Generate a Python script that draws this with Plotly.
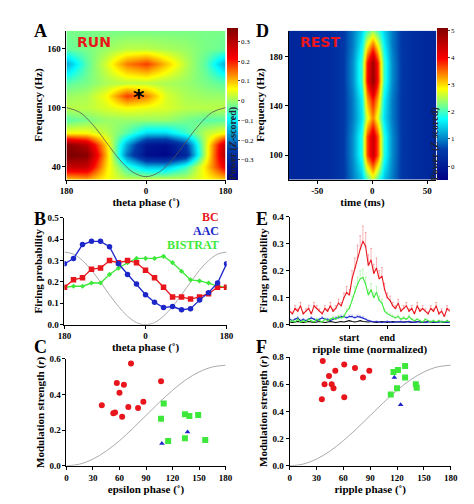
import plotly.graph_objects as go

W, H = 474, 504

# ---- panel A: RUN spectrogram (theta phase x frequency) ----
a_phase = [-180, -135, -90, -45, 0, 45, 90, 135, 180]
a_freq = [28, 40, 52, 62, 75, 88, 100, 112, 125, 145, 160, 178]
a_power = [
    [0.10, 0.12, 0.06, 0.02, 0.02, 0.02, 0.02, 0.06, 0.10],
    [0.28, 0.28, 0.08, -0.06, -0.14, -0.14, -0.06, 0.08, 0.24],
    [0.38, 0.36, 0.10, -0.20, -0.36, -0.38, -0.30, 0.03, 0.32],
    [0.36, 0.30, 0.08, -0.16, -0.34, -0.36, -0.26, 0.03, 0.30],
    [0.06, 0.06, 0.02, -0.04, -0.12, -0.12, -0.06, 0.02, 0.06],
    [-0.04, -0.02, 0.00, 0.00, 0.00, 0.00, -0.02, -0.04, -0.04],
    [0.02, 0.02, 0.04, 0.06, 0.05, 0.04, 0.02, 0.02, 0.02],
    [0.00, 0.01, 0.06, 0.18, 0.14, 0.04, 0.01, 0.00, 0.00],
    [-0.04, -0.02, 0.01, 0.02, 0.02, 0.01, 0.00, -0.02, -0.04],
    [-0.16, -0.04, 0.04, 0.14, 0.18, 0.10, 0.02, -0.04, -0.16],
    [-0.03, -0.02, 0.00, 0.02, 0.02, 0.01, 0.00, -0.02, -0.03],
    [-0.02, -0.02, -0.02, -0.02, -0.02, -0.02, -0.02, -0.02, -0.02],
]
a_wave_phase = [-180, -150, -120, -90, -60, -30, 0, 30, 60, 90, 120, 150, 180]
a_wave_freq = [100, 95.3, 82.5, 65, 47.5, 34.7, 30, 34.7, 47.5, 65, 82.5, 95.3, 100]

# ---- panel D: REST spectrogram (time x frequency) ----
d_time = [-76, -40, -28, -18, -10, -5, 0, 5, 10, 18, 28, 40, 58]
d_freq = [80, 100, 115, 130, 145, 160, 175, 190, 201]
d_power = [
    [0.2, 0.3, 0.5, 1.0, 1.4, 2.0, 2.6, 2.0, 1.4, 1.0, 0.5, 0.3, 0.2],
    [0.2, 0.3, 0.5, 1.1, 1.9, 3.6, 4.4, 3.6, 1.9, 1.1, 0.5, 0.3, 0.2],
    [0.2, 0.3, 0.5, 1.1, 1.9, 3.6, 4.4, 3.6, 1.9, 1.1, 0.5, 0.3, 0.2],
    [0.2, 0.3, 0.5, 1.0, 1.6, 2.7, 3.4, 2.7, 1.6, 1.0, 0.5, 0.3, 0.2],
    [0.2, 0.3, 0.5, 1.0, 1.7, 3.2, 3.9, 3.2, 1.7, 1.0, 0.5, 0.3, 0.2],
    [0.2, 0.3, 0.5, 1.1, 2.0, 3.9, 4.9, 3.9, 2.0, 1.1, 0.5, 0.3, 0.2],
    [0.2, 0.3, 0.5, 1.1, 2.0, 3.8, 4.8, 3.8, 2.0, 1.1, 0.5, 0.3, 0.2],
    [0.2, 0.3, 0.5, 1.0, 1.7, 2.8, 3.5, 2.8, 1.7, 1.0, 0.5, 0.3, 0.2],
    [0.2, 0.3, 0.5, 1.0, 1.5, 2.0, 2.4, 2.0, 1.5, 1.0, 0.5, 0.3, 0.2],
]

# ---- panel B: theta phase firing ----
b_phase = [-180, -160, -140, -120, -100, -80, -60, -40, -20, 0, 20, 40, 60, 80, 100, 120, 140, 160, 180]
b_bc = [.175, .21, .22, .26, .265, .30, .29, .30, .29, .255, .22, .175, .13, .13, .12, .13, .145, .175, .175]
b_aac = [.285, .31, .375, .39, .39, .365, .285, .235, .19, .14, .105, .08, .085, .07, .075, .115, .15, .195, .285]
b_bistrat = [.175, .18, .18, .195, .195, .235, .265, .29, .31, .31, .31, .32, .29, .25, .21, .205, .195, .18, .175]
b_theta = [.34, .330, .300, .255, .199, .140, .085, .040, .010, 0, .010, .040, .085, .140, .199, .255, .300, .330, .34]

# ---- panel E: ripple-time firing (normalized bins) ----
e_bc = [.05, .04, .06, .05, .07, .04, .05, .06, .04, .07, .06, .05, .04, .06, .05, .07, .05, .06, .08, .07,
        .10, .12, .11, .17, .21, .25, .28, .31, .29, .22, .24, .19, .21, .17, .18, .13, .10, .09, .07, .06,
        .08, .05, .06, .07, .05, .06, .04, .07, .05, .06, .05, .04, .06, .05, .07, .04, .05, .03, .06, .05]
e_bistrat = [.01, .015, .01, .02, .01, .015, .01, .02, .015, .01, .02, .015, .01, .02, .015, .02, .025, .02, .03, .025,
             .03, .05, .06, .09, .12, .15, .17, .175, .15, .11, .13, .10, .12, .09, .08, .05, .04, .035, .03, .025,
             .03, .02, .025, .02, .03, .02, .015, .02, .015, .01, .02, .015, .01, .015, .01, .015, .01, .01, .015, .01]
e_aac = [.02, .015, .02, .025, .015, .02, .015, .02, .025, .02, .015, .02, .025, .02, .02, .015, .02, .025, .025, .03,
         .03, .025, .03, .03, .025, .03, .028, .025, .02, .015, .012, .01, .012, .01, .008, .01, .012, .01, .008, .01,
         .01, .012, .008, .01, .012, .01, .008, .01, .012, .01, .008, .01, .012, .01, .008, .01, .012, .01, .01, .008]
e_other = [.01, .008, .01, .012, .01, .008, .01, .012, .01, .008, .01, .012, .01, .008, .01, .012, .01, .008, .01, .012,
           .01, .012, .015, .012, .01, .012, .015, .012, .01, .01, .012, .01, .008, .01, .012, .01, .008, .01, .012, .01,
           .01, .008, .01, .012, .01, .008, .01, .012, .01, .008, .01, .012, .01, .008, .01, .012, .01, .008, .01, .012]
e_bins = list(range(len(e_bc)))

# ---- panels C and F: modulation strength vs phase ----
c_bc_x = [40, 53, 55, 57, 60, 63, 65, 70, 73, 81, 87, 107]
c_bc_y = [.34, .295, .30, .465, .41, .275, .455, .33, .575, .325, .36, .475]
c_bis_x = [107, 110, 115, 134, 134, 139, 149, 157]
c_bis_y = [.265, .35, .14, .155, .29, .28, .285, .145]
c_aac_x = [108, 137]
c_aac_y = [.125, .19]
c_curve_x = [0, 15, 30, 45, 60, 75, 90, 105, 120, 135, 150, 165, 180]
c_curve_y = [0, .0096, .038, .083, .141, .210, .283, .356, .424, .483, .527, .555, .565]

f_bc_x = [36, 37, 39, 44, 47, 49, 51, 61, 61, 73, 82, 89]
f_bc_y = [.49, .77, .60, .66, .60, .57, .70, .745, .505, .72, .65, .70]
f_bis_x = [113, 116, 120, 121, 129, 129, 141, 142]
f_bis_y = [.525, .69, .57, .705, .735, .65, .60, .575]
f_aac_x = [117, 124]
f_aac_y = [.65, .45]
f_curve_y = [0, .0126, .0496, .108, .185, .274, .370, .466, .555, .632, .690, .727, .740]

RED, BLUE, GREEN, GREY = "#e8161c", "#1d27c9", "#3ee83a", "#aaaaaa"
SERIF = "Liberation Serif"


def px(x):
    return x / W


def py(y):
    return 1 - y / H


def cbar(x, vals):
    return dict(x=px(x), xanchor="left", xpad=0, ypad=0, y=py(170), yanchor="bottom",
                lenmode="pixels", len=152, thickness=11, outlinewidth=0, tickvals=vals,
                tickfont=dict(size=7, family=SERIF, color="black"), ticklen=2, ticks="outside")


fig = go.Figure()

fig.add_trace(go.Heatmap(
    x=a_phase, y=a_freq, z=a_power, colorscale="Jet", zmin=-0.4, zmax=0.37, zsmooth="best",
    xaxis="x", yaxis="y", colorbar=cbar(218, [-0.3, -0.2, -0.1, 0, 0.1, 0.2, 0.3]),
))
fig.add_trace(go.Scatter(x=a_wave_phase, y=a_wave_freq, mode="lines", line=dict(color="#555", width=0.8, shape="spline"),
                         xaxis="x", yaxis="y", showlegend=False))

fig.add_trace(go.Heatmap(
    x=d_time, y=d_freq, z=d_power, colorscale="Jet", zmin=-0.5, zmax=5.1, zsmooth="best",
    xaxis="x2", yaxis="y2", colorbar=cbar(435, [0, 1, 2, 3, 4, 5]),
))

# B
fig.add_trace(go.Scatter(x=b_phase, y=b_theta, mode="lines", line=dict(color=GREY, width=1, shape="spline"),
                         xaxis="x3", yaxis="y3", showlegend=False))
fig.add_trace(go.Scatter(x=b_phase, y=b_bistrat, mode="lines+markers", line=dict(color=GREEN, width=1.3),
                         marker=dict(size=4, symbol="diamond"), xaxis="x3", yaxis="y3", showlegend=False))
fig.add_trace(go.Scatter(x=b_phase, y=b_bc, mode="lines+markers", line=dict(color=RED, width=1.3),
                         marker=dict(size=5.5, symbol="square"), xaxis="x3", yaxis="y3", showlegend=False))
fig.add_trace(go.Scatter(x=b_phase, y=b_aac, mode="lines+markers", line=dict(color=BLUE, width=1.3),
                         marker=dict(size=5.5), xaxis="x3", yaxis="y3", showlegend=False))

# E
for ys, col, err in [(e_other, "black", None), (e_aac, BLUE, "rgba(80,90,230,0.5)"),
                     (e_bistrat, GREEN, "rgba(62,232,58,0.45)"), (e_bc, RED, "rgba(232,22,28,0.45)")]:
    fig.add_trace(go.Scatter(
        x=e_bins, y=ys, mode="lines", line=dict(color=col, width=1.1), xaxis="x4", yaxis="y4", showlegend=False,
        error_y=None if err is None else dict(type="percent", value=18, symmetric=False, valueminus=0,
                                              color=err, thickness=0.7, width=1),
    ))

# C and F
for xa, ya, sets, cy in [("x5", "y5", [(c_bc_x, c_bc_y), (c_bis_x, c_bis_y), (c_aac_x, c_aac_y)], c_curve_y),
                         ("x6", "y6", [(f_bc_x, f_bc_y), (f_bis_x, f_bis_y), (f_aac_x, f_aac_y)], f_curve_y)]:
    fig.add_trace(go.Scatter(x=c_curve_x, y=cy, mode="lines", line=dict(color=GREY, width=1, shape="spline"),
                             xaxis=xa, yaxis=ya, showlegend=False))
    for (sx, sy), col, sym, sz in zip(sets, [RED, GREEN, BLUE], ["circle", "square", "triangle-up"], [6, 6, 5]):
        fig.add_trace(go.Scatter(x=sx, y=sy, mode="markers", marker=dict(color=col, symbol=sym, size=sz),
                                 xaxis=xa, yaxis=ya, showlegend=False))

tickf = dict(family=SERIF, size=9, color="black")
titf = dict(family=SERIF, size=11, color="black")
ax = dict(showline=True, linecolor="black", linewidth=1, ticks="outside", ticklen=3, tickcolor="black",
          tickfont=tickf, showgrid=False, zeroline=False, mirror=False)


def bold(vals, fmt="%d"):
    return ["<b>" + (fmt % v) + "</b>" for v in vals]


fig.update_layout(
    width=W, height=H, margin=dict(l=0, r=0, t=0, b=0), paper_bgcolor="white", plot_bgcolor="white",
    font=dict(family=SERIF, color="black"),
    xaxis=dict(ax, domain=[px(53), px(217)], range=[-180, 180], tickvals=[-180, 0, 180],
               ticktext=["<b>180</b>", "<b>0</b>", "<b>180</b>"], anchor="y",
               title=dict(text="<b>theta phase (˚)</b>", font=titf, standoff=2)),
    yaxis=dict(ax, domain=[py(170), py(18)], range=[27, 178], tickvals=[40, 100, 160],
               ticktext=bold([40, 100, 160]), anchor="x",
               title=dict(text="<b>Frequency (Hz)</b>", font=titf, standoff=2)),
    xaxis2=dict(ax, domain=[px(282), px(434)], range=[-76, 58], tickvals=[-50, 0, 50],
                ticktext=bold([-50, 0, 50]), anchor="y2",
                title=dict(text="<b>time (ms)</b>", font=titf, standoff=2)),
    yaxis2=dict(ax, domain=[py(170), py(18)], range=[80, 201], tickvals=[100, 140, 180],
                ticktext=bold([100, 140, 180]), anchor="x2",
                title=dict(text="<b>Frequency (Hz)</b>", font=titf, standoff=2)),
    xaxis3=dict(ax, domain=[px(51), px(218)], range=[-180, 180], tickvals=[-180, 0, 180],
                ticktext=["<b>180</b>", "<b>0</b>", "<b>180</b>"], anchor="y3",
                title=dict(text="<b>theta phase (˚)</b>", font=titf, standoff=0)),
    yaxis3=dict(ax, domain=[py(318), py(209)], range=[0, 0.5], tickvals=[0, .1, .2, .3, .4, .5],
                ticktext=bold([0, .1, .2, .3, .4, .5], "%.1f"),
                anchor="x3", title=dict(text="<b>Firing probability</b>", font=titf, standoff=2)),
    xaxis4=dict(ax, domain=[px(283), px(448)], range=[0, 59], tickvals=[22, 36],
                ticktext=["<b>start</b>", "<b>end</b>"], anchor="y4", tickfont=dict(family=SERIF, size=10),
                title=dict(text="<b>ripple time (normalized)</b>", font=titf, standoff=0)),
    yaxis4=dict(ax, domain=[py(318), py(208)], range=[0, 0.4], tickvals=[0, .1, .2, .3, .4],
                ticktext=bold([0, .1, .2, .3, .4], "%.1f"),
                anchor="x4", title=dict(text="<b>Firing probability</b>", font=titf, standoff=2)),
    xaxis5=dict(ax, domain=[px(53), px(217)], range=[0, 180], tickvals=[0, 30, 60, 90, 120, 150, 180],
                ticktext=bold([0, 30, 60, 90, 120, 150, 180]), anchor="y5",
                title=dict(text="<b>epsilon phase (˚)</b>", font=titf, standoff=2)),
    yaxis5=dict(ax, domain=[py(462), py(353)], range=[0, 0.6], tickvals=[0, .2, .4, .6],
                ticktext=bold([0, .2, .4, .6], "%.1f"), anchor="x5",
                title=dict(text="<b>Modulation strength (<i>r</i>)</b>", font=titf, standoff=2)),
    xaxis6=dict(ax, domain=[px(283), px(449)], range=[0, 180], tickvals=[0, 30, 60, 90, 120, 150, 180],
                ticktext=bold([0, 30, 60, 90, 120, 150, 180]), anchor="y6",
                title=dict(text="<b>ripple phase (˚)</b>", font=titf, standoff=2)),
    yaxis6=dict(ax, domain=[py(462), py(351)], range=[0, 0.8], tickvals=[0, .2, .4, .6, .8],
                ticktext=bold([0, .2, .4, .6, .8], "%.1f"), anchor="x6",
                title=dict(text="<b>Modulation strength (<i>r</i>)</b>", font=titf, standoff=2)),
)

ann = []
for letter, x, y in [("A", 18, 18), ("D", 246, 18), ("B", 18, 210), ("E", 246, 210), ("C", 18, 341), ("F", 246, 341)]:
    ann.append(dict(text="<b>%s</b>" % letter, x=px(x), y=py(y), xref="paper", yref="paper",
                    showarrow=False, xanchor="left", yanchor="middle", font=dict(family=SERIF, size=18, color="black")))
for label, x in [("RUN", 62), ("REST", 292)]:
    ann.append(dict(text="<b>%s</b>" % label, x=px(x), y=py(30), xref="paper", yref="paper", showarrow=False,
                    xanchor="left", yanchor="middle", font=dict(family="DejaVu Sans", size=14, color="#e8161c")))
for x in [224, 441]:
    ann.append(dict(text="<b>Power (<i>Z</i>-scored)</b>", x=px(x), y=py(94), xref="paper", yref="paper",
                    showarrow=False, textangle=-90, font=dict(family=SERIF, size=10, color="#223")))
ann.append(dict(text="<b>*</b>", x=-15, y=110, xref="x", yref="y", showarrow=False,
                font=dict(family="DejaVu Sans", size=22, color="black")))
for label, col, y in [("BC", RED, 208), ("AAC", BLUE, 222), ("BISTRAT", GREEN, 237)]:
    ann.append(dict(text="<b>%s</b>" % label, x=px(212), y=py(y), xref="paper", yref="paper", showarrow=False,
                    xanchor="right", yanchor="middle", font=dict(family=SERIF, size=12, color=col)))
fig.update_layout(annotations=ann)

fig.write_html("out.html")
